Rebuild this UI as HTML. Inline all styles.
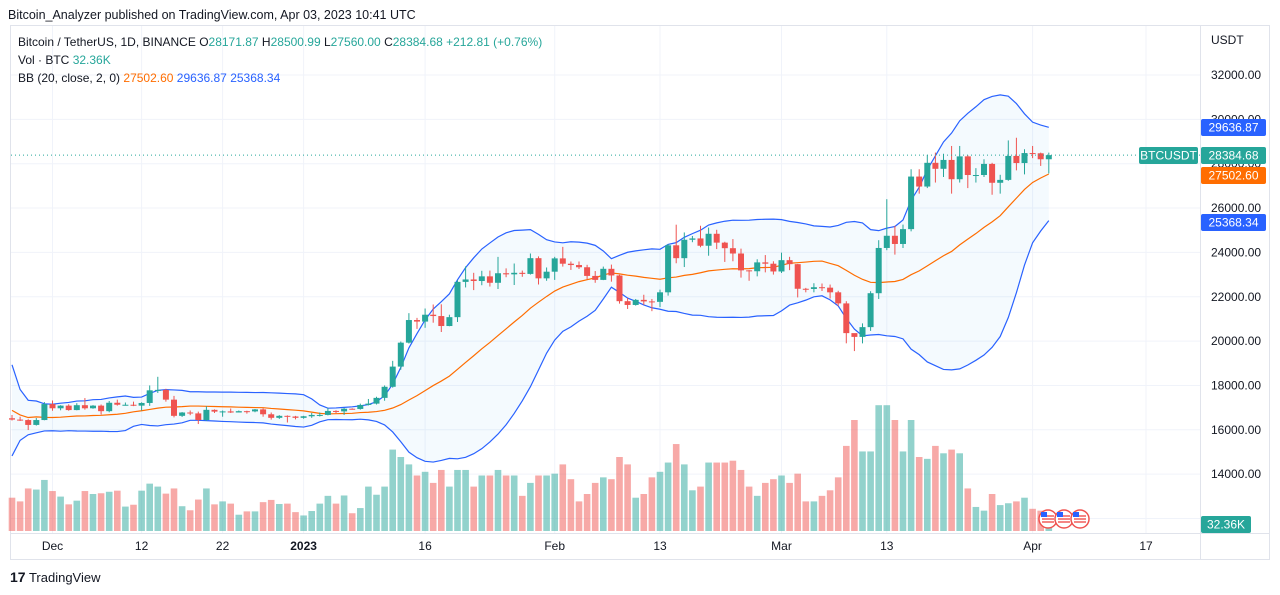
<!DOCTYPE html>
<html><head><meta charset="utf-8"><style>
body{margin:0;background:#fff;font-family:"Liberation Sans",sans-serif;}
#wrap{position:relative;width:1280px;height:595px;overflow:hidden;}
</style></head><body>
<div id="wrap">
<svg id="svg" width="1280" height="595" xmlns="http://www.w3.org/2000/svg"></svg>
</div>
<script>
const closes=[16460,16440,16220,16440,17160,16970,17090,16890,17110,16970,17090,16840,17220,17130,17130,17090,17210,17780,17800,17360,16630,16780,16740,16440,16900,16820,16830,16780,16840,16830,16920,16700,16540,16630,16600,16540,16610,16670,16670,16850,16830,16950,16940,17120,17180,17440,17940,18850,19930,20950,20880,21190,21130,20680,21080,22670,22780,22710,22920,22630,23060,23010,23080,23030,23740,22830,23130,23730,23490,23430,23330,22940,22760,23260,22960,21800,21630,21860,21790,21770,22200,24320,23740,24570,24630,24300,24840,24440,24190,23950,23190,23150,23550,23490,23140,23650,23470,22360,22350,22430,22410,22200,21700,20360,20190,20630,22160,24200,24750,24380,25050,27420,26970,28040,27770,28170,27300,28330,27490,27490,27990,27140,27270,28350,28030,28480,28470,28200,28385];
const highs=[16670,16590,16480,16530,17250,17320,17110,17150,17200,17430,17110,17140,17300,17360,17230,17270,17240,18000,18390,17850,17530,16800,16870,16820,17060,16920,16870,16960,16870,16860,16940,16970,16780,16660,16650,16630,16630,16760,16780,16990,16880,16990,16970,17180,17390,17490,18000,19110,19980,21260,21050,21470,21650,21660,21190,22750,23370,23080,23170,23180,23800,23280,23500,23180,23950,23820,23320,23800,24250,23590,23590,23440,23160,23360,23450,22990,21940,21900,22090,21900,22320,24380,25250,24900,24740,25200,25120,25020,24480,24600,24170,23200,23690,23880,23600,23990,23800,23480,22400,22610,22600,22550,22270,21800,20300,20800,22250,24550,26400,25200,25250,27750,27750,28400,28500,28450,28800,28800,28380,27800,28200,28040,27500,29050,29170,28650,28800,28500,28500];
const lows=[16420,16400,15990,16190,16430,16860,16880,16860,16880,16910,16950,16690,16790,17090,17090,17070,16870,17080,17660,17270,16560,16580,16660,16260,16400,16760,16590,16760,16780,16730,16790,16590,16460,16490,16330,16470,16500,16540,16600,16650,16750,16670,16910,16910,17100,17140,17310,17900,18710,19890,20550,20600,20830,20410,20670,20860,22420,22300,22520,22460,22350,22880,22530,22900,23000,22550,22720,22760,23360,23210,23250,22780,22630,22750,22680,21690,21450,21600,21630,21350,21530,22050,23510,23340,24460,24230,23850,24150,23570,23600,22860,22720,22920,23100,23000,23070,23200,21970,22200,22200,22260,21920,21580,19900,19550,19900,20460,21900,24100,23900,24200,24950,26650,26900,27150,27400,26650,27150,26900,27150,27400,26600,26650,27230,27700,27520,28250,27900,27560];
const volumes=[90,80,115,112,138,108,93,72,82,108,100,102,106,109,66,71,109,128,120,101,115,67,56,85,115,72,80,74,44,53,53,78,84,73,74,51,42,54,74,95,74,96,48,62,120,98,120,220,200,180,150,160,130,165,120,165,165,120,150,150,165,150,150,95,130,150,150,155,180,140,80,100,130,145,140,200,180,90,100,145,160,185,235,180,110,120,185,185,185,190,165,120,95,130,140,150,130,155,80,80,95,110,145,230,300,215,215,340,340,300,215,300,200,195,230,210,220,210,115,65,55,100,70,75,80,90,60,55,32];
const priorCloses=[20600,18540,15880,17590,17070,16810,16330,16620,16900,16660,16690,16700,16690,16280,15780,16230,16600,16600,16520];
const priceTicks=[32000,30000,28000,26000,24000,22000,20000,18000,16000,14000];
const timeLabels=["Dec","12","22","2023","16","Feb","13","Mar","13","Apr","17"];
const timeIdx=[5,16,26,36,51,67,80,95,108,126,140];

const NS="http://www.w3.org/2000/svg";
const svg=document.getElementById('svg');
const X0=12,DX=8.1,PR=1200;
const xS=i=>X0+i*DX;
const yS=p=>75+(32000-p)*0.022175;
const vS=v=>531-v*0.37;
function mk(tag,attrs,parent){const e=document.createElementNS(NS,tag);for(const k in attrs)e.setAttribute(k,attrs[k]);(parent||svg).appendChild(e);return e;}
function tx(str,x,y,attrs){const e=mk('text',Object.assign({x:x,y:y,'font-family':'Liberation Sans, sans-serif','font-size':12,fill:'#131722'},attrs||{}));e.textContent=str;return e;}

// frame
let f=mk('rect',{x:10.5,y:25.5,width:1259,height:534,fill:'none',stroke:'#e0e3eb'});


mk('line',{x1:PR+0.5,y1:25,x2:PR+0.5,y2:560,stroke:'#e0e3eb'});
mk('line',{x1:10,y1:533.5,x2:1270,y2:533.5,stroke:'#e0e3eb'});
// grid
const g=mk('g',{});


priceTicks.concat([12000]).forEach(p=>mk('line',{x1:11,x2:PR,y1:yS(p),y2:yS(p),stroke:'#f0f3fa'},g));
timeIdx.forEach(i=>mk('line',{x1:xS(i),x2:xS(i),y1:26,y2:533,stroke:'#f0f3fa'},g));

// Bollinger
const all=priorCloses.concat(closes);
const mid=[],up=[],lo=[];
for(let i=0;i<closes.length;i++){const j=i+priorCloses.length;const w=all.slice(j-19,j+1);const m=w.reduce((a,b)=>a+b,0)/20;const sd=Math.sqrt(w.reduce((a,b)=>a+(b-m)*(b-m),0)/20);mid.push(m);up.push(m+2*sd);lo.push(m-2*sd);}
let fillPts=up.map((v,i)=>xS(i)+','+yS(v)).concat(lo.map((v,i)=>xS(i)+','+yS(v)).reverse()).join(' ');
let bf=mk('polygon',{points:fillPts,fill:'rgba(33,150,243,0.05)'});


// volumes
const vg=mk('g',{});


volumes.forEach((v,i)=>{const o=i?closes[i-1]:16520;const upc=closes[i]>=o;const r=mk('rect',{x:xS(i)-3.3,y:vS(v),width:6.6,height:531-vS(v),fill:upc?'rgba(38,166,154,0.5)':'rgba(239,83,80,0.5)'},vg);

});
function line(arr,color,name){const p=mk('polyline',{points:arr.map((v,i)=>xS(i)+','+yS(v)).join(' '),fill:'none',stroke:color,'stroke-width':1.2});

}
line(up,'#2962ff','bb-upper');line(lo,'#2962ff','bb-lower');line(mid,'#ff6d00','bb-basis');
// candles
const cg=mk('g',{});


closes.forEach((c,i)=>{const o=i?closes[i-1]:16520;const col=c>=o?'#26a69a':'#ef5350';const x=xS(i);
mk('line',{x1:x,x2:x,y1:yS(highs[i]),y2:yS(lows[i]),stroke:col,'stroke-width':1},cg);
const t=yS(Math.max(o,c)),b=yS(Math.min(o,c));const r=mk('rect',{x:x-3,y:t,width:6,height:Math.max(1,b-t),fill:col},cg);

});
// last price line
mk('line',{x1:11,x2:PR,y1:yS(28384.68),y2:yS(28384.68),stroke:'#26a69a','stroke-dasharray':'1 3'});
// flags
[1048,1064,1080].forEach(x=>{const fl=mk('g',{});
mk('circle',{cx:x,cy:519,r:9,fill:'#fff',stroke:'#ef5350','stroke-width':1.5},fl);
for(let k=0;k<3;k++)mk('line',{x1:x-6,x2:x+6,y1:516+k*3,y2:516+k*3,stroke:'#ef5350','stroke-width':1.4},fl);
mk('rect',{x:x-7,y:512,width:6,height:5,fill:'#2962ff'},fl);});
// axis labels
priceTicks.forEach(p=>{const t=tx(p.toFixed(2),1211,yS(p)+4);});
tx('USDT',1211,44);
timeLabels.forEach((s,i)=>{const t=tx(s,xS(timeIdx[i]),550,{'text-anchor':'middle','font-weight':s==='2023'?'bold':'normal'});});
function badge(txt,y,col,x,w,name){const gg=mk('g',{});mk('rect',{x:x,y:y-8,width:w,height:17,rx:2,fill:col},gg);tx(txt,x+w/2,y+4.5,{fill:'#fff','text-anchor':'middle'});}
badge('29636.87',127,'#2962ff',1201,65,'bb-upper-label');
badge('28384.68',155,'#26a69a',1201,65,'last-price-label');
badge('BTCUSDT',155,'#26a69a',1139,59,'symbol-label');
badge('27502.60',175,'#ff6d00',1201,65,'bb-basis-label');
badge('25368.34',222,'#2962ff',1201,65,'bb-lower-label');
badge('32.36K',524,'#26a69a',1201,50,'volume-label');
// header text
tx('Bitcoin_Analyzer published on TradingView.com, Apr 03, 2023 10:41 UTC',8,19,{'font-size':12.5});
const l1=tx('',18,46);
l1.innerHTML='Bitcoin / TetherUS, 1D, BINANCE  <tspan fill="#131722">O</tspan><tspan fill="#26a69a">28171.87 </tspan>H<tspan fill="#26a69a">28500.99 </tspan>L<tspan fill="#26a69a">27560.00 </tspan>C<tspan fill="#26a69a">28384.68 +212.81 (+0.76%)</tspan>';
const l2=tx('',18,64);
l2.innerHTML='Vol · BTC  <tspan fill="#26a69a">32.36K</tspan>';
const l3=tx('',18,82);
l3.innerHTML='BB (20, close, 2, 0)  <tspan fill="#ff6d00">27502.60</tspan>  <tspan fill="#2962ff">29636.87</tspan>  <tspan fill="#2962ff">25368.34</tspan>';
const lg=tx('',10,582,{'font-size':13});
lg.innerHTML='<tspan font-weight="bold" font-size="14">17</tspan> TradingView';
</script>
</body></html>
